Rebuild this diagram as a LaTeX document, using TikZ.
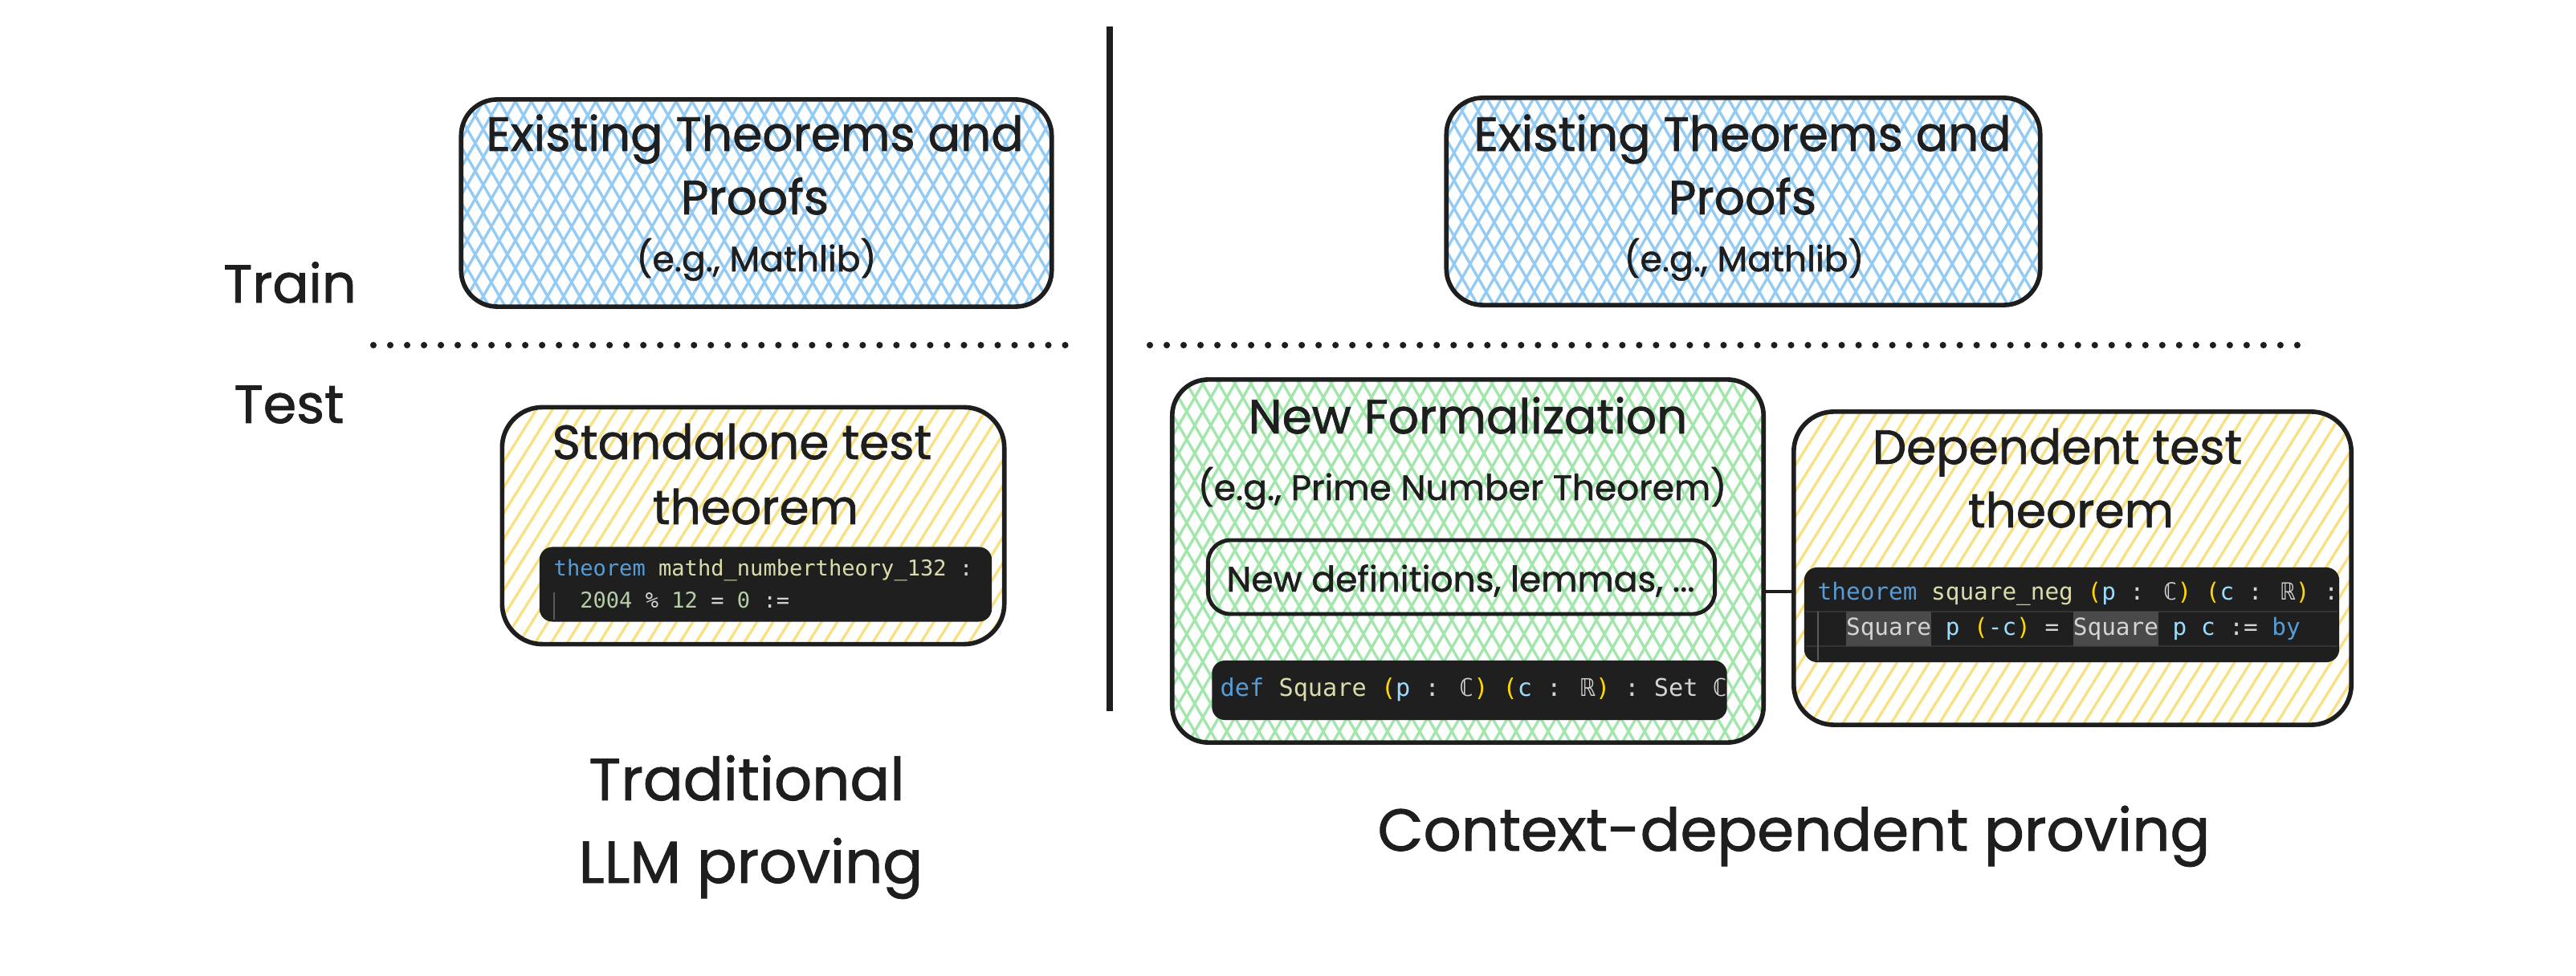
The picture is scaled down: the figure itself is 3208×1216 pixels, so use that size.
\documentclass[tikz,border=0pt]{standalone}
\usepackage{fontspec}
\setmainfont{Poppins}[FakeBold=1.2]
\newfontfamily\codefont{DejaVu Sans Mono}
\usetikzlibrary{calc}
\definecolor{ink}{HTML}{1E1E1E}
\definecolor{hblue}{HTML}{93CBF5}
\definecolor{hgreen}{HTML}{A2E6AC}
\definecolor{hyellow}{HTML}{F7E182}
\definecolor{codebg}{HTML}{1F1F1F}
\definecolor{ckw}{HTML}{569CD6}
\definecolor{cfn}{HTML}{DCDCAA}
\definecolor{cnum}{HTML}{B5CEA8}
\definecolor{cpar}{HTML}{FFD700}
\definecolor{cvar}{HTML}{9CDCFE}
\definecolor{ctxt}{HTML}{D4D4D4}
\definecolor{chl}{HTML}{4A4A4A}
\definecolor{cguide}{HTML}{5A5A5A}
\definecolor{cband}{HTML}{333333}
\newcommand\hlsq[1]{{\setlength\fboxsep{0pt}\colorbox{chl}{\rule[-3.7pt]{0pt}{12.2pt}\textcolor{ctxt}{#1}}}}
\tikzset{
  sketchbox/.style={draw=ink, line width=1.6pt, rounded corners=#1, inner sep=0pt, fill=white},
  hatchone/.style={path picture={
     \foreach \k in {-30,...,45}
       \draw[#1, line width=0.95pt] ($(path picture bounding box.south west)+(\k*0.2cm,0pt)$) -- ++(58:9cm);}},
  hatchtwo/.style={path picture={
     \foreach \k in {-30,...,45}{
       \draw[#1, line width=0.95pt] ($(path picture bounding box.south west)+(\k*0.2cm,0pt)$) -- ++(60:9cm);
       \draw[#1, line width=0.95pt] ($(path picture bounding box.south east)+(-\k*0.2cm,0pt)$) -- ++(120:9cm);}}},
  bluebox/.style={sketchbox=0.45cm, hatchtwo=hblue},
  greenbox/.style={sketchbox=0.45cm, hatchtwo=hgreen},
  yellowbox/.style={sketchbox=0.5cm, hatchone=hyellow},
  innerbox/.style={draw=ink, line width=1.4pt, rounded corners=0.28cm, inner sep=0pt},
  codebox/.style={fill=codebg, rounded corners=0.16cm, inner sep=0pt},
  code/.style={anchor=base west, inner sep=0pt, text=ctxt},
  lbl/.style={anchor=base, inner sep=0pt, text=ink},
  titlefont/.style={font=\fontsize{17}{20}\selectfont},
  subfont/.style={font=\fontsize{12.5}{15}\selectfont},
  sidefont/.style={font=\fontsize{19}{22}\selectfont},
  bigfont/.style={font=\fontsize{21}{25}\selectfont},
  sep/.style={draw=ink, line width=2pt},
  dots/.style={draw=ink, line width=2.3pt, line cap=round, dash pattern=on 0pt off 0.21cm},
  conn/.style={draw=ink, line width=0.9pt},
  guide/.style={draw=cguide, line width=0.8pt}
}
\begin{document}
\begin{tikzpicture}[x=0.01cm, y=-0.01cm]
\path[fill=white] (0,0) rectangle (3208,1216);
\useasboundingbox (0,0) rectangle (3208,1216);

% separators
\draw[sep] (1382,33) -- (1382,886);
\draw[dots] (465,430) -- (1340,430);
\draw[dots] (1432,430) -- (2880,430);

% side labels
\node[lbl, sidefont] (train) at (361,377) {Train};
\node[lbl, sidefont] (test) at (360,527) {Test};

% ---------- left half ----------
\node[bluebox, minimum width=7.35cm, minimum height=2.58cm] (exL) at (942,253) {};
\node[lbl, titlefont] (exLa) at (940,188) {Existing Theorems and};
\node[lbl, titlefont] (exLb) at (940,267) {Proofs};
\node[lbl, subfont] (exLc) at (942,338) {(e.g., Mathlib)};

\node[yellowbox, minimum width=6.25cm, minimum height=2.95cm] (sa) at (938,655) {};
\node[lbl, titlefont] (saa) at (924,572) {Standalone test};
\node[lbl, titlefont] (sab) at (941,653) {theorem};
\node[codebox, minimum width=5.63cm, minimum height=0.93cm] (sacode) at (953.5,728) {};
\draw[guide] (690,738) -- (690,772);
\node[code, font=\codefont\fontsize{7.7}{9}\selectfont] (sal1) at (689,718)
  {\textcolor{ckw}{theorem} \textcolor{cfn}{mathd\_numbertheory\_132} :};
\node[code, font=\codefont\fontsize{7.7}{9}\selectfont] (sal2) at (689,758)
  {\phantom{xx}\textcolor{cnum}{2004} \% \textcolor{cnum}{12} = \textcolor{cnum}{0} :=};

\node[lbl, bigfont] (trad1) at (930,997) {Traditional};
\node[lbl, bigfont] (trad2) at (935,1100) {LLM proving};

% ---------- right half ----------
\node[bluebox, minimum width=7.39cm, minimum height=2.58cm] (exR) at (2171,251) {};
\node[lbl, titlefont] (exRa) at (2170,188) {Existing Theorems and};
\node[lbl, titlefont] (exRb) at (2170,267) {Proofs};
\node[lbl, subfont] (exRc) at (2172,338) {(e.g., Mathlib)};

\node[greenbox, minimum width=7.36cm, minimum height=4.52cm] (nf) at (1828,699) {};
\node[lbl, titlefont] (nfa) at (1828,540) {New Formalization};
\node[lbl, subfont] (nfb) at (1821,623) {(e.g., Prime Number Theorem)};
\node[innerbox, minimum width=6.31cm, minimum height=0.92cm] (defs) at (1820,719) {};
\node[lbl, subfont] (defst) at (1819,737) {New definitions, lemmas, ...};
\node[codebox, minimum width=6.41cm, minimum height=0.74cm] (defcode) at (1830,860) {};
\node[code, font=\codefont\fontsize{8.6}{10}\selectfont] (defl) at (1519,868)
  {\textcolor{ckw}{def} \textcolor{cfn}{Square} \textcolor{cpar}{(}\textcolor{cvar}{p} : ℂ\textcolor{cpar}{)} \textcolor{cpar}{(}\textcolor{cvar}{c} : ℝ\textcolor{cpar}{)} : Set ℂ};

\node[yellowbox, minimum width=6.94cm, minimum height=3.90cm] (dep) at (2581,708) {};
\node[lbl, titlefont] (depa) at (2562,578) {Dependent test};
\node[lbl, titlefont] (depb) at (2579,657) {theorem};
\node[codebox, minimum width=6.66cm, minimum height=1.18cm] (depcode) at (2580,766) {};
\draw[draw=cband, line width=0.8pt] (2249,762) -- (2911,762) (2249,805) -- (2911,805);
\draw[guide] (2264,762) -- (2264,823);
\node[code, font=\codefont\fontsize{8.35}{10}\selectfont] (depl1) at (2263,748)
  {\textcolor{ckw}{theorem} \textcolor{cfn}{square\_neg} \textcolor{cpar}{(}\textcolor{cvar}{p} : ℂ\textcolor{cpar}{)} \textcolor{cpar}{(}\textcolor{cvar}{c} : ℝ\textcolor{cpar}{)} :};
\node[code, font=\codefont\fontsize{8.35}{10}\selectfont] (depl2) at (2263,792)
  {\phantom{xx}\hlsq{Square} \textcolor{cvar}{p} \textcolor{cpar}{(}\textcolor{cvar}{-c}\textcolor{cpar}{)} = \hlsq{Square} \textcolor{cvar}{p c} := \textcolor{ckw}{by}};

% connector
\draw[conn] (nf.east |- 0,737) -- (dep.west |- 0,737);

\node[lbl, bigfont] (ctx) at (2234,1060) {Context-dependent proving};
\end{tikzpicture}
\end{document}
